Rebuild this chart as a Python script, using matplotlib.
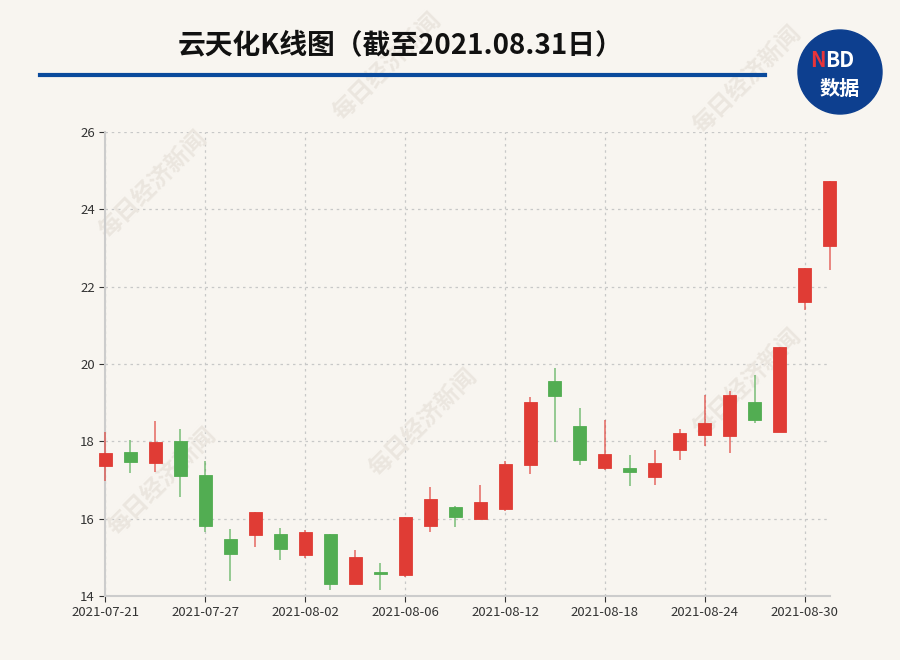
import matplotlib.pyplot as plt
from matplotlib.patches import Circle

plt.rcParams['font.family'] = ['Noto Sans CJK SC', 'DejaVu Sans']

dates = ["2021-07-21", "2021-07-22", "2021-07-23", "2021-07-26", "2021-07-27", "2021-07-28",
         "2021-07-29", "2021-07-30", "2021-08-02", "2021-08-03", "2021-08-04", "2021-08-05",
         "2021-08-06", "2021-08-09", "2021-08-10", "2021-08-11", "2021-08-12", "2021-08-13",
         "2021-08-16", "2021-08-17", "2021-08-18", "2021-08-19", "2021-08-20", "2021-08-23",
         "2021-08-24", "2021-08-25", "2021-08-26", "2021-08-27", "2021-08-30", "2021-08-31"]
opens = [17.36, 17.72, 17.45, 18.01, 17.14, 15.48, 15.58, 15.60, 15.07, 15.60, 14.32, 14.60,
         14.55, 15.81, 16.31, 16.00, 16.24, 17.40, 19.57, 18.40, 17.32, 17.31, 17.09, 17.77,
         18.16, 18.14, 19.02, 18.23, 21.60, 23.05]
closes = [17.71, 17.47, 17.98, 17.10, 15.80, 15.09, 16.17, 15.21, 15.65, 14.32, 15.00, 14.56,
          16.05, 16.50, 16.03, 16.42, 17.42, 19.02, 19.16, 17.52, 17.67, 17.21, 17.44, 18.21,
          18.48, 19.19, 18.56, 20.44, 22.48, 24.73]
lows = [16.97, 17.18, 17.20, 16.55, 15.66, 14.38, 15.27, 14.93, 14.98, 14.15, 14.32, 14.15,
        14.48, 15.66, 15.79, 15.99, 16.21, 17.15, 17.98, 17.38, 17.25, 16.85, 16.87, 17.52,
        17.87, 17.71, 18.48, 18.23, 21.40, 22.43]
highs = [18.24, 18.03, 18.53, 18.31, 17.48, 15.72, 16.17, 15.77, 15.70, 15.60, 15.18, 14.85,
         16.05, 16.83, 16.33, 16.87, 17.50, 19.14, 19.90, 18.87, 18.56, 17.65, 17.78, 18.32,
         19.21, 19.30, 19.72, 20.44, 22.48, 24.73]

bg = "#f8f5f0"
up_color = "#e03c35"
down_color = "#52ad52"

fig = plt.figure(figsize=(9, 6.6), dpi=100, facecolor=bg)
ax = fig.add_axes([0.117, 0.097, 0.805, 0.703], facecolor=bg)

# watermarks sit behind the candles
for (wx, wy) in [(0.17, 0.72), (0.43, 0.90), (0.83, 0.88), (0.47, 0.36), (0.83, 0.42), (0.18, 0.27)]:
    ax.text(wx, wy, "每日经济新闻", fontsize=17, color="#ebe6df", rotation=45,
            ha="center", va="center", fontweight="bold", zorder=1,
            transform=fig.transFigure, clip_on=False)

for i in range(len(dates)):
    c = up_color if closes[i] >= opens[i] else down_color
    ax.vlines(i, lows[i], highs[i], color=c, lw=1.2, alpha=0.7, zorder=3, clip_on=False)
    lo, hi = min(opens[i], closes[i]), max(opens[i], closes[i])
    ax.bar(i, max(hi - lo, 0.06), bottom=lo, width=0.52, color=c, edgecolor=c, lw=0.6,
           zorder=4, clip_on=False)

ax.set_xlim(0, len(dates) - 1)
ax.set_ylim(14, 26)
ax.set_yticks(range(14, 27, 2))
ax.set_xticks(range(0, len(dates), 4))
ax.set_xticklabels([dates[i] for i in range(0, len(dates), 4)])
ax.tick_params(labelsize=9.5, colors="#333333", length=4)
ax.grid(True, ls=(0, (2, 3)), color="#c8c8c8", lw=0.9, zorder=2)
ax.set_axisbelow(True)
for s in ["top", "right"]:
    ax.spines[s].set_visible(False)
for s in ["left", "bottom"]:
    ax.spines[s].set_color("#cccccc")
    ax.spines[s].set_linewidth(1.5)

fig.text(0.445, 0.932, "云天化K线图（截至2021.08.31日）", fontsize=20, fontweight="bold",
         ha="center", va="center", color="#111111")
fig.add_artist(plt.Line2D([0.044, 0.85], [0.886, 0.886], color="#0a4a9c", lw=3))

logo = Circle((8.40, 5.88), 0.42, transform=fig.dpi_scale_trans, color="#0d3f8f")
fig.add_artist(logo)
fig.text(0.917, 0.908, "N", fontsize=15, color="#e8343a", fontweight="bold",
         fontstyle="italic", ha="right", va="center")
fig.text(0.917, 0.908, "BD", fontsize=15, color="white", fontweight="bold",
         fontstyle="italic", ha="left", va="center")
fig.text(0.933, 0.866, "数据", fontsize=14.5, color="white", fontweight="bold",
         ha="center", va="center")

fig.savefig("out.png", dpi=100, facecolor=bg)
